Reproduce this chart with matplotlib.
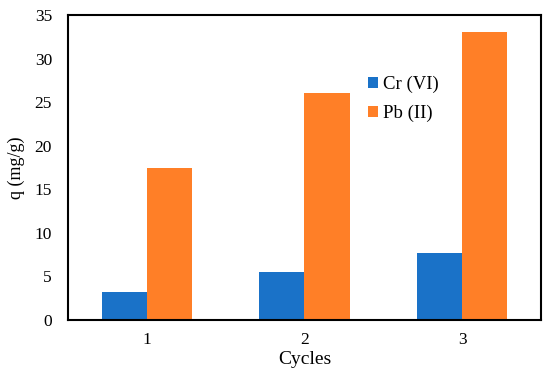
import numpy as np
import matplotlib
matplotlib.use('Agg')
import matplotlib.pyplot as plt

plt.rcParams['font.family'] = ['Liberation Serif', 'DejaVu Serif']

cycles = ['1', '2', '3']
cr_vi = [3.2, 5.5, 7.7]
pb_ii = [17.5, 26.0, 33.0]

fig = plt.figure(figsize=(5.5, 3.76), dpi=100)
ax = fig.add_axes([0.1236, 0.149, 0.86, 0.811])

x = np.arange(1, len(cycles) + 1)
w = 0.286
ax.bar(x - w / 2, cr_vi, w, color='#1A72C8', label='Cr (VI)')
ax.bar(x + w / 2, pb_ii, w, color='#FF7F27', label='Pb (II)')

ax.set_xlim(0.5, 3.5)
ax.set_ylim(0, 35)
ax.set_yticks(np.arange(0, 36, 5))
ax.set_xticks(x)
ax.set_xticklabels(cycles)
ax.tick_params(length=0, labelsize=12.5)
ax.tick_params(axis='x', pad=9)
ax.tick_params(axis='y', pad=11.5)
for s in ax.spines.values():
    s.set_linewidth(1.5)
    s.set_color('black')

ax.set_xlabel('Cycles', fontsize=14, labelpad=2)
ax.set_ylabel('q (mg/g)', fontsize=13, labelpad=7)

ax.legend(loc='upper left', bbox_to_anchor=(0.635, 0.80), frameon=False,
          fontsize=13.5, handlelength=0.5, handleheight=0.5, handletextpad=0.3,
          labelspacing=0.6, borderpad=0, borderaxespad=0)

plt.savefig('out.png', dpi=100)
